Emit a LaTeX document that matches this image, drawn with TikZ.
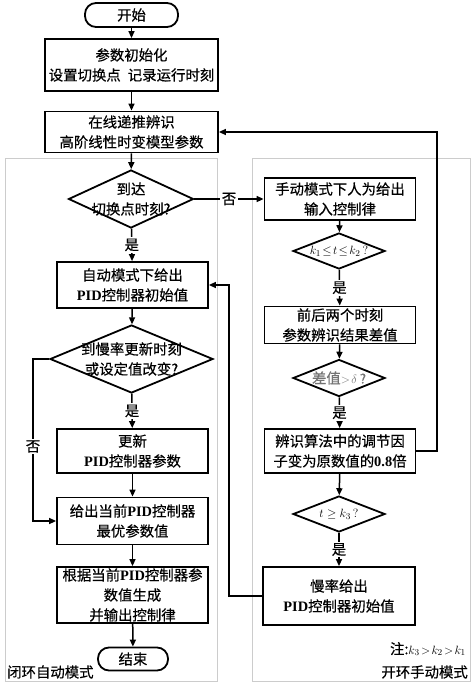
\documentclass[tikz,border=0pt]{standalone}
\usepackage{fontspec}
\setmainfont{Noto Sans CJK SC}
\newfontfamily\zhb{Noto Sans CJK SC}[FakeBold=0.5]
\newfontfamily\lat{Liberation Serif}
\usetikzlibrary{shapes.geometric,arrows.meta}
\newcommand{\pid}{{\lat\bfseries PID}}
\begin{document}
\begin{tikzpicture}[x=1pt,y=-1pt,
  every node/.style={font=\fontsize{14.4}{20}\selectfont\zhb, align=center, inner sep=0pt},
  box/.style={draw, line width=1.8pt, minimum width=151pt},
  term/.style={draw, line width=1.8pt, rounded corners=11pt},
  dia/.style={draw, diamond, line width=1.8pt},
  conn/.style={line width=1.5pt, -{Triangle[length=7pt,width=6pt]}},
  lab/.style={fill=white, inner sep=1.5pt},
  small/.style={font=\fontsize{13}{15}\selectfont},
  region/.style={draw=black!20, line width=0.8pt}
]
\useasboundingbox (0,0) rectangle (474,685);
% regions
\draw[region] (5,158) rectangle (217,681);
\draw[region] (252,158) rectangle (470,681);
\node[anchor=west] (lreg) at (7,672) {闭环自动模式};
\node[anchor=east] (rreg) at (468,672) {开环手动模式};
\node[anchor=east] (note) at (466,649) {注:{\fontsize{13}{15}\selectfont$k_3\!>\!k_2\!>\!k_1$}};

% left column
\node[term, minimum width=93pt, minimum height=24pt] (start) at (131.5,15) {开始};
\node[box, minimum width=173pt, minimum height=52pt] (init) at (131.5,65) {参数初始化\\设置切换点\hspace{7pt}记录运行时刻};
\node[box, minimum width=173pt, minimum height=41pt] (ident) at (131.5,132) {在线递推辨识\\高阶线性时变模型参数};
\node[dia, minimum width=125pt, minimum height=58pt, label={center:{到达\\切换点时刻?}}] (d1) at (131,199) {};
\node[box, minimum height=46pt] (auto) at (132.5,285) {自动模式下给出\\\pid 控制器初始值};
\node[dia, minimum width=163pt, minimum height=68pt, label={center:{到慢率更新时刻\\或设定值改变?}}] (d2) at (131.5,359) {};
\node[box, minimum height=44pt] (upd) at (132.5,451) {更新\\\pid 控制器参数};
\node[box, minimum height=47pt] (give) at (132.5,521) {给出当前\pid 控制器\\最优参数值};
\node[box, minimum height=56pt] (gen) at (132.5,595) {根据当前\pid 控制器参\\数值生成\\并输出控制律};
\node[term, minimum width=70pt, minimum height=23pt] (end) at (133,659) {结束};

% right column
\node[box, minimum height=42pt] (man) at (340,199) {手动模式下人为给出\\输入控制律};
\node[dia, minimum width=92pt, minimum height=36pt, label={[small]center:{$k_1\!\le\! t\!\le\! k_2\,?$}}] (d3) at (339,251) {};
\node[box, minimum height=37pt] (diff) at (340,325) {前后两个时刻\\参数辨识结果差值};
\node[dia, minimum width=92pt, minimum height=37pt, label={center:{\color{black!55}差值{\fontsize{13}{15}\selectfont$>\!\delta$ ?}}}] (d4) at (339,378) {};
\node[box, minimum height=44pt] (fac) at (340,451) {辨识算法中的调节因\\子变为原数值的{\lat\bfseries 0.8}倍};
\node[dia, minimum width=92pt, minimum height=36pt, label={[small]center:{$t\ge k_3\,?$}}] (d5) at (339,514) {};
\node[box, minimum width=152pt, minimum height=58pt] (slow) at (339,596) {慢率给出\\\pid 控制器初始值};

\coordinate (fr) at (437,451);
\coordinate (sl) at (229,596);
\coordinate (nl) at (33,359);

% connectors
\draw[conn] (start) -- (init);
\draw[conn] (init) -- (ident);
\draw[conn] (ident) -- (d1);
\draw[conn] (d1) -- node[lab] {是} (auto);
\draw[conn] (auto) -- (d2);
\draw[conn] (d2) -- node[lab] {是} (upd);
\draw[conn] (upd) -- (give);
\draw[conn] (give) -- (gen);
\draw[conn] (gen) -- (end);
\draw[conn] (d2.west) -- (nl) |- node[lab, pos=0.27] {否} (give.west);
\draw[conn] (d1.east) -- node[lab] {否} (man.west);
\draw[conn] (man) -- (d3);
\draw[conn] (d3) -- node[lab] {是} (diff);
\draw[conn] (diff) -- (d4);
\draw[conn] (d4) -- node[lab] {是} (fac);
\draw[conn] (fac) -- (d5);
\draw[conn] (d5) -- node[lab] {是} (slow);
\draw[conn] (fac.east) -- (fr) |- (ident.east);
\draw[conn] (slow.west) -- (sl) |- (auto.east);
\end{tikzpicture}
\end{document}
